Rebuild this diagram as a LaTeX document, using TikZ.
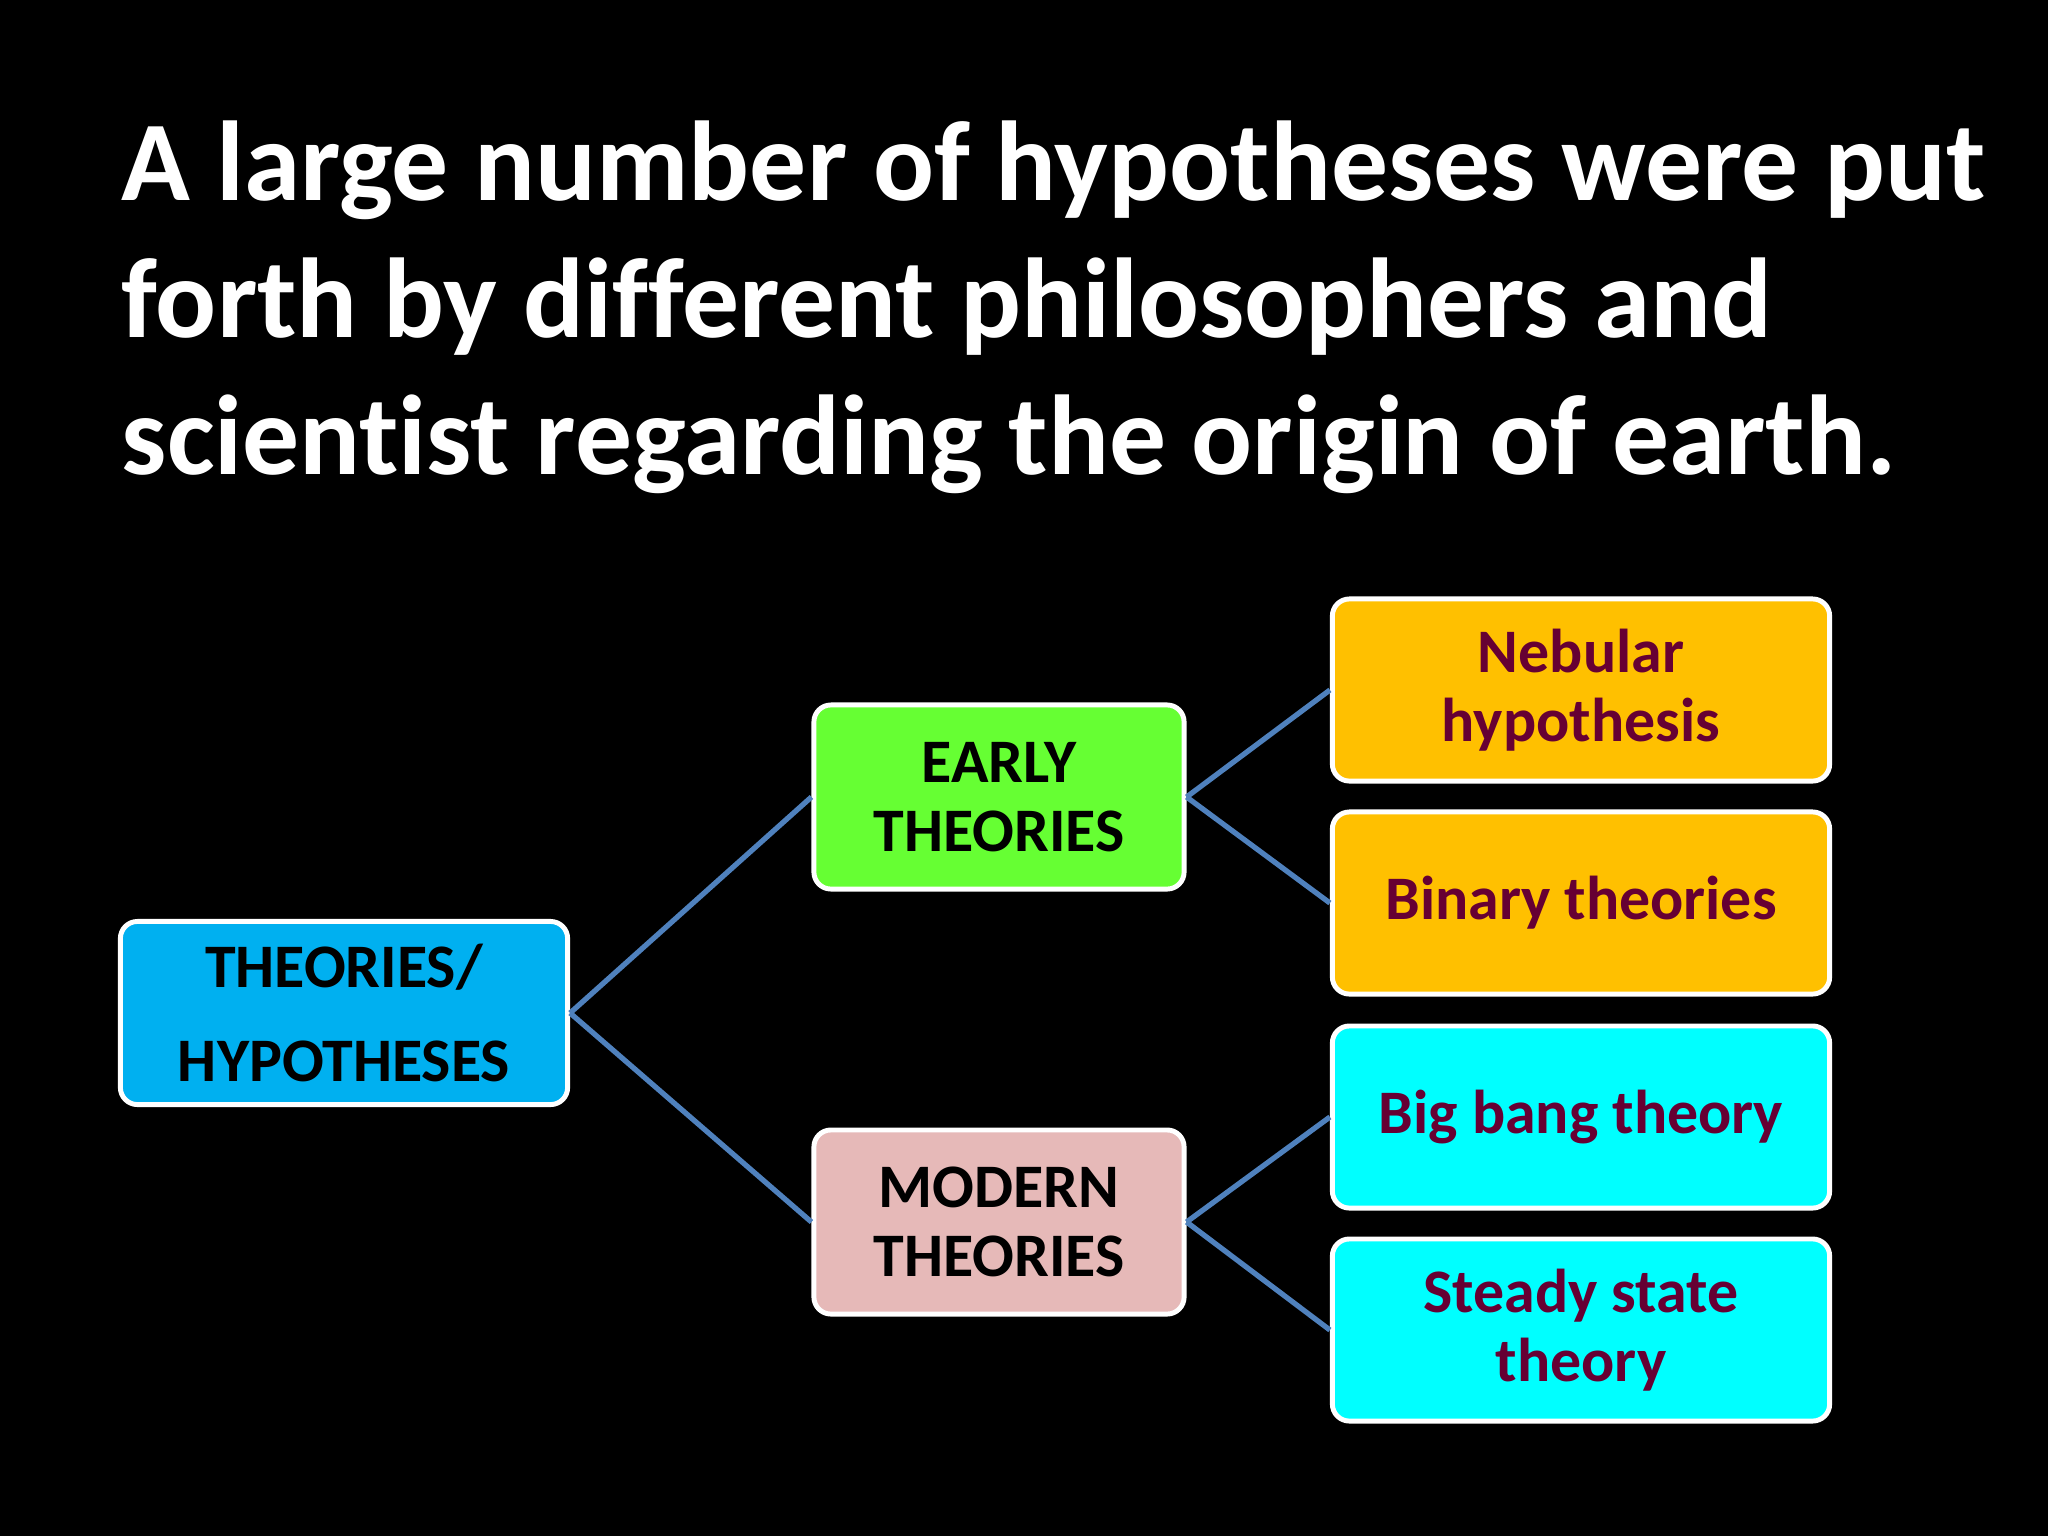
\documentclass[tikz,border=0pt]{standalone}
\usepackage{fontspec}
\setmainfont[Ligatures=NoCommon]{Carlito}
\definecolor{rootblue}{HTML}{00B0F0}
\definecolor{earlygreen}{HTML}{66FF33}
\definecolor{modernpink}{HTML}{E6B9B8}
\definecolor{gold}{HTML}{FFC000}
\definecolor{aqua}{HTML}{00FFFF}
\definecolor{maroontext}{HTML}{660033}
\definecolor{linkblue}{HTML}{4F81BD}
\begin{document}
\begin{tikzpicture}[x=0.01cm,y=-0.01cm,
  box/.style={draw=white, line width=1.4pt, rounded corners=0.17cm, align=center,
    inner sep=0pt, font=\fontsize{17.6pt}{19.6pt}\selectfont\bfseries},
  midbox/.style={box, minimum width=3.70cm, minimum height=1.84cm, text=black},
  leafbox/.style={box, minimum width=4.97cm, minimum height=1.82cm, text=maroontext},
  titleline/.style={anchor=base west, inner sep=0pt, text=white,
    font=\fontsize{32.3pt}{39pt}\selectfont\bfseries},
  link/.style={draw=linkblue, line width=1.5pt}]
\fill[black] (0,0) rectangle (2048,1536);
\useasboundingbox (0,0) rectangle (2048,1536);

\node[titleline] (t1) at (121,200) {A large number of hypotheses were put};
\node[titleline] (t2) at (121,337) {forth by different philosophers and};
\node[titleline] (t3) at (121,474) {scientist regarding the origin of earth.};

\node[box, fill=rootblue, text=black, minimum width=4.47cm, minimum height=1.83cm,
  font=\fontsize{17.6pt}{26.5pt}\selectfont\bfseries] (root) at (344,1013) {THEORIES/\\HYPOTHESES};
\node[midbox, fill=earlygreen] (early) at (999,797) {EARLY\\THEORIES};
\node[midbox, fill=modernpink] (modern) at (999,1222) {MODERN\\THEORIES};

\node[leafbox, fill=gold] (nebular) at (1581,690) {Nebular\\hypothesis};
\node[leafbox, fill=gold] (binary) at (1581,903) {Binary theories};
\node[leafbox, fill=aqua] (bigbang) at (1581,1117) {Big bang theory};
\node[leafbox, fill=aqua] (steady) at (1581,1330) {Steady state\\theory};

\draw[link] (root.east) -- (early.west);
\draw[link] (root.east) -- (modern.west);
\draw[link] (early.east) -- (nebular.west);
\draw[link] (early.east) -- (binary.west);
\draw[link] (modern.east) -- (bigbang.west);
\draw[link] (modern.east) -- (steady.west);
\end{tikzpicture}
\end{document}
